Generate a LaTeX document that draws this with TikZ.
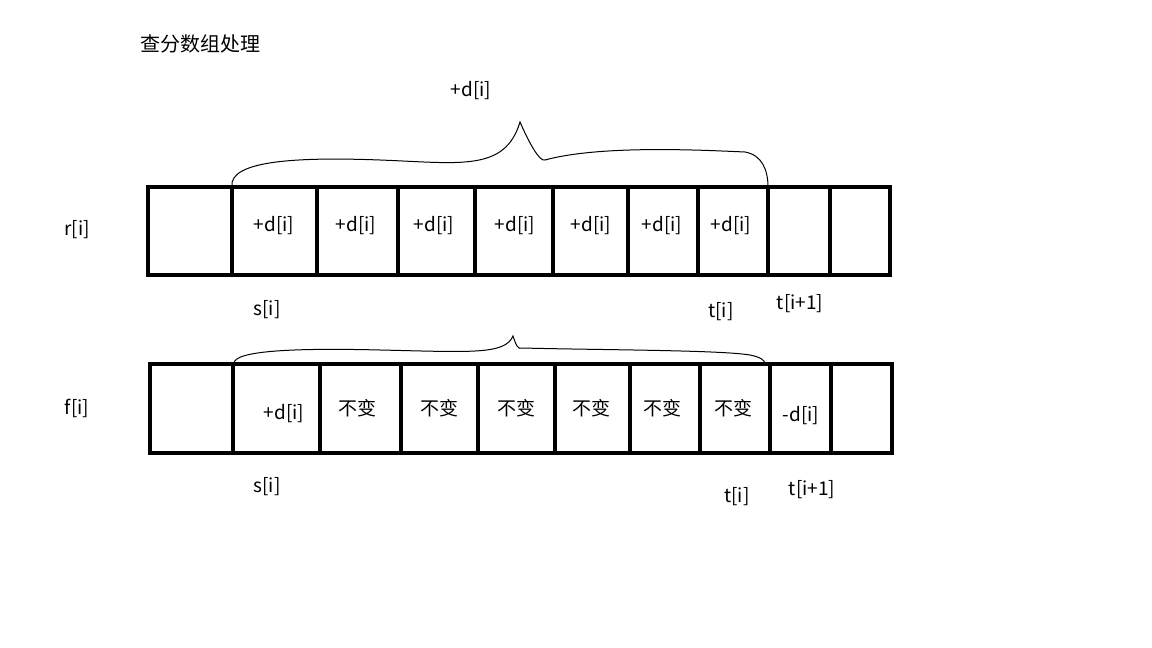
\documentclass[tikz,border=0pt]{standalone}
\usepackage{fontspec}
\setmainfont{Noto Sans CJK SC}
\begin{document}
\begin{tikzpicture}[x=1pt,y=-1pt,
  cellbox/.style={draw=black,line width=3.5pt},
  lab/.style={font=\fontsize{19}{22}\selectfont,inner sep=0pt},
  brace/.style={draw=black,line width=1pt}]
\useasboundingbox (0,0) rectangle (1152,648);
\node[lab,font=\fontsize{20}{24}\selectfont] (title) at (200,44) {查分数组处理};
\node[lab] (top) at (471,91) {+d[i]};
% top row
\foreach \a/\b [count=\k] in {148/232,232/317,317/398,398/475,475/553,553/628,628/698,698/768,768/830,830/890}
  \draw[cellbox] (\a,187) rectangle (\b,275) node[pos=.5] (r\k) {};
\foreach \k/\x in {2/274,3/356,4/434,5/515,6/591,7/662,8/731}
  \node[lab] (rt\k) at (\x,226) {+d[i]};
\node[lab] (rlab) at (77,230) {r[i]};
\node[lab] (rs) at (267,310) {s[i]};
\node[lab] (rt) at (721,312) {t[i]};
\node[lab] (rt1) at (800,304) {t[i+1]};
\draw[brace] (232,187) .. controls (228,160) and (300,157) .. (380,160)
  .. controls (460,163) and (505,172) .. (520,122)
  .. controls (530,145) and (540,162) .. (545,160)
  .. controls (600,145) and (700,150) .. (745,152)
  .. controls (762,155) and (768,170) .. (768,187);
% bottom row
\foreach \a/\b [count=\k] in {150/233,233/320,320/401,401/478,478/555,555/630,630/700,700/770,770/831,831/892}
  \draw[cellbox] (\a,364) rectangle (\b,453) node[pos=.5] (f\k) {};
\node[lab] (ft2) at (284,414) {+d[i]};
\foreach \k/\x in {3/357,4/439,5/516,6/591,7/662,8/733}
  \node[lab] (ft\k) at (\x,408) {不变};
\node[lab] (ft9) at (801,416) {-d[i]};
\node[lab] (flab) at (77,408) {f[i]};
\node[lab] (fs) at (267,487) {s[i]};
\node[lab] (ft) at (737,497) {t[i]};
\node[lab] (ft1) at (812,490) {t[i+1]};
\draw[brace] (234,364) .. controls (232,350) and (300,348) .. (380,350)
  .. controls (470,352) and (505,355) .. (513,336)
  .. controls (516,345) and (518,350) .. (522,348)
  .. controls (600,350) and (720,350) .. (750,355)
  .. controls (760,357) and (765,360) .. (765,364);
\end{tikzpicture}
\end{document}
